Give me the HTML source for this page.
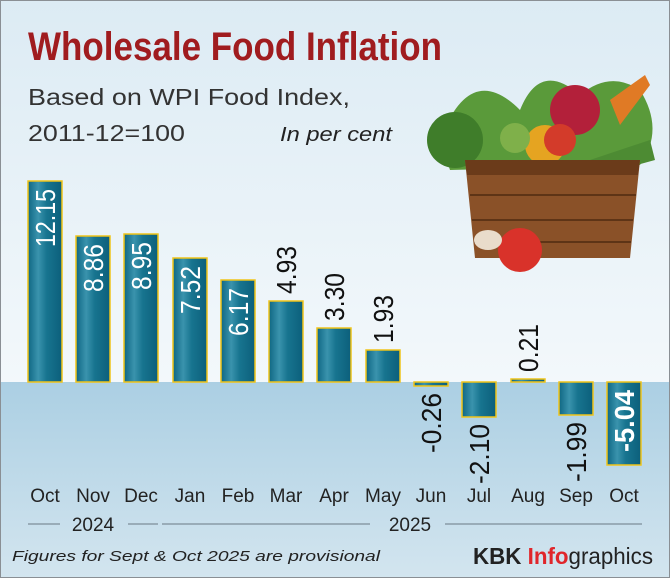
<!DOCTYPE html>
<html><head><meta charset="utf-8"><style>
html,body{margin:0;padding:0;}
body{width:670px;height:578px;overflow:hidden;}
svg{display:block;font-family:"Liberation Sans",sans-serif;}
</style></head><body>
<svg width="670" height="578" viewBox="0 0 670 578" xmlns="http://www.w3.org/2000/svg">
<defs>
<linearGradient id="top" x1="0" y1="0" x2="0" y2="1"><stop offset="0" stop-color="#dcebf4"/><stop offset="1" stop-color="#f3f8fb"/></linearGradient>
<linearGradient id="bot" x1="0" y1="0" x2="0" y2="1"><stop offset="0" stop-color="#abcfe3"/><stop offset="1" stop-color="#d3e5ef"/></linearGradient>
<linearGradient id="bar" x1="0" y1="0" x2="1" y2="0"><stop offset="0" stop-color="#0f6783"/><stop offset="0.3" stop-color="#3a93ad"/><stop offset="0.55" stop-color="#17748f"/><stop offset="1" stop-color="#0c5f7b"/></linearGradient>
</defs>
<rect x="0" y="0" width="670" height="382" fill="url(#top)"/>
<rect x="0" y="382" width="670" height="196" fill="url(#bot)"/>
<rect x="0.5" y="0.5" width="669" height="577" fill="none" stroke="#8a8f94"/>

<text x="28" y="60" font-size="40" font-weight="bold" fill="#a01c1f" textLength="414" lengthAdjust="spacingAndGlyphs">Wholesale Food Inflation</text>
<text x="28" y="105" font-size="23" fill="#333" textLength="322" lengthAdjust="spacingAndGlyphs">Based on WPI Food Index,</text>
<text x="28" y="141" font-size="23" fill="#333" textLength="157" lengthAdjust="spacingAndGlyphs">2011-12=100</text>
<text x="280" y="141" font-size="20" font-style="italic" fill="#222" textLength="112" lengthAdjust="spacingAndGlyphs">In per cent</text>

<g>
<path d="M440 140 Q470 60 520 110 Q540 60 580 95 Q610 70 640 90 Q665 130 640 165 L450 170 Z" fill="#5a9a3a"/>
<circle cx="455" cy="140" r="28" fill="#3f7d2a"/>
<circle cx="575" cy="110" r="25" fill="#b3203a"/>
<circle cx="545" cy="145" r="20" fill="#e5a421"/>
<circle cx="560" cy="140" r="16" fill="#d33b2a"/>
<path d="M610 100 L645 75 L650 85 L620 125 Z" fill="#e07a25"/>
<path d="M590 160 L650 140 L655 160 L600 175 Z" fill="#4d8b33"/>
<circle cx="515" cy="138" r="15" fill="#7fb04a"/>
<path d="M465 160 L640 160 L630 258 L475 258 Z" fill="#8a5128"/>
<path d="M465 160 L640 160 L638 175 L467 175 Z" fill="#6b3b1a"/>
<g stroke="#5e3416" stroke-width="2">
<line x1="470" y1="195" x2="636" y2="195"/><line x1="472" y1="220" x2="633" y2="220"/><line x1="474" y1="242" x2="631" y2="242"/>
</g>
<circle cx="520" cy="250" r="22" fill="#d9322a"/>
<ellipse cx="488" cy="240" rx="14" ry="10" fill="#e9dccb"/>
</g>

<g stroke="#f0c419" stroke-width="1.5" fill="url(#bar)">
<rect x="28" y="181" width="34" height="201"/>
<rect x="76" y="236" width="34" height="146"/>
<rect x="124" y="234" width="34" height="148"/>
<rect x="173" y="258" width="34" height="124"/>
<rect x="221" y="280" width="34" height="102"/>
<rect x="269" y="301" width="34" height="81"/>
<rect x="317" y="328" width="34" height="54"/>
<rect x="366" y="350" width="34" height="32"/>
<rect x="414" y="382" width="34" height="4"/>
<rect x="462" y="382" width="34" height="35"/>
<rect x="511" y="379" width="34" height="3"/>
<rect x="559" y="382" width="34" height="33"/>
<rect x="607" y="382" width="34" height="83"/>
</g>

<g font-size="28" font-weight="normal">
<g fill="#fff">
<text transform="translate(55,189) rotate(-90)" text-anchor="end" textLength="58" lengthAdjust="spacingAndGlyphs">12.15</text>
<text transform="translate(103,244) rotate(-90)" text-anchor="end" textLength="48" lengthAdjust="spacingAndGlyphs">8.86</text>
<text transform="translate(151,242) rotate(-90)" text-anchor="end" textLength="48" lengthAdjust="spacingAndGlyphs">8.95</text>
<text transform="translate(200,266) rotate(-90)" text-anchor="end" textLength="48" lengthAdjust="spacingAndGlyphs">7.52</text>
<text transform="translate(248,288) rotate(-90)" text-anchor="end" textLength="48" lengthAdjust="spacingAndGlyphs">6.17</text>
<text transform="translate(634,390) rotate(-90)" text-anchor="end" textLength="62" lengthAdjust="spacingAndGlyphs" font-weight="bold">-5.04</text>
</g>
<g fill="#111">
<text transform="translate(296,294) rotate(-90)" textLength="48" lengthAdjust="spacingAndGlyphs">4.93</text>
<text transform="translate(344,321) rotate(-90)" textLength="48" lengthAdjust="spacingAndGlyphs">3.30</text>
<text transform="translate(393,343) rotate(-90)" textLength="48" lengthAdjust="spacingAndGlyphs">1.93</text>
<text transform="translate(538,372) rotate(-90)" textLength="48" lengthAdjust="spacingAndGlyphs">0.21</text>
<text transform="translate(441,393) rotate(-90)" text-anchor="end" textLength="60" lengthAdjust="spacingAndGlyphs">-0.26</text>
<text transform="translate(489,424) rotate(-90)" text-anchor="end" textLength="60" lengthAdjust="spacingAndGlyphs">-2.10</text>
<text transform="translate(586,422) rotate(-90)" text-anchor="end" textLength="60" lengthAdjust="spacingAndGlyphs">-1.99</text>
</g>
</g>

<g font-size="19" fill="#222" text-anchor="middle">
<text x="45" y="502">Oct</text><text x="93" y="502">Nov</text><text x="141" y="502">Dec</text>
<text x="190" y="502">Jan</text><text x="238" y="502">Feb</text><text x="286" y="502">Mar</text>
<text x="334" y="502">Apr</text><text x="383" y="502">May</text><text x="431" y="502">Jun</text>
<text x="479" y="502">Jul</text><text x="528" y="502">Aug</text><text x="576" y="502">Sep</text>
<text x="624" y="502">Oct</text>
<text x="93" y="531">2024</text><text x="410" y="531">2025</text>
</g>
<g stroke="#6a7a84" stroke-width="1">
<line x1="28" y1="524" x2="60" y2="524"/><line x1="128" y1="524" x2="158" y2="524"/>
<line x1="162" y1="524" x2="370" y2="524"/><line x1="445" y1="524" x2="642" y2="524"/>
</g>
<text x="12" y="561" font-size="15" font-style="italic" fill="#222" textLength="368" lengthAdjust="spacingAndGlyphs">Figures for Sept &amp; Oct 2025 are provisional</text>
<text x="473" y="564" font-size="23" fill="#222" textLength="180" lengthAdjust="spacingAndGlyphs"><tspan font-weight="bold">KBK </tspan><tspan font-weight="bold" fill="#e0262b">Info</tspan><tspan>graphics</tspan></text>
</svg>
</body></html>
